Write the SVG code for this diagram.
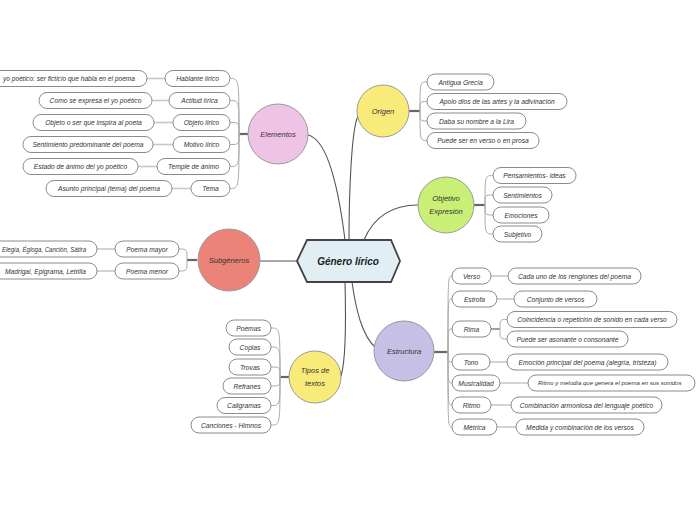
<svg xmlns="http://www.w3.org/2000/svg" width="696" height="520" viewBox="0 0 696 520">
<style>
.pill{fill:#fff;stroke:#8c8c8c;stroke-width:1}
.t{font-family:"Liberation Sans",Arial,sans-serif;font-style:italic;font-size:6.7px;fill:#333;text-anchor:middle}
.ts{text-anchor:start}
.main{fill:none;stroke:#555;stroke-width:1.1}
.br{fill:none;stroke:#aaa;stroke-width:1}
.lk{fill:none;stroke:#c8c8c8;stroke-width:1.6}
.jn{fill:none;stroke:#666;stroke-width:2.2}
.topic{stroke:#9a9a9a;stroke-width:1}
.ct{font-family:"Liberation Sans",Arial,sans-serif;font-style:italic;font-size:7.5px;fill:#333;text-anchor:middle}
</style>
<rect width="696" height="520" fill="#fff"/>
<g id="connectors">
<path class="main" d="M308 135 C330 140 340 200 345 240"/>
<path class="main" d="M358 116 C351 130 349 200 349 240"/>
<path class="main" d="M418 205 C395 205 375 214 364 240"/>
<path class="main" d="M297 261 L260 261"/>
<path class="main" d="M345 282 C346 320 346 360 341 376"/>
<path class="main" d="M352 282 C356 310 362 336 376 348"/>
<path class="jn" d="M248 134 L239 134"/>
<path class="jn" d="M197 260 L187 260"/>
<path class="jn" d="M289 377 L280 377"/>
<path class="jn" d="M409 111 L420 111"/>
<path class="jn" d="M474 205 L485 205"/>
<path class="jn" d="M434 352 L448 352"/>
<path class="jn" d="M491 329 L500 329" style="stroke-width:1.6;stroke:#888"/>
<path class="br" d="M239 134 C239 78.5 239 78.5 230 78.5"/>
<path class="br" d="M239 134 C239 100.5 239 100.5 230 100.5"/>
<path class="br" d="M239 134 C239 122.5 239 122.5 230 122.5"/>
<path class="br" d="M239 134 C239 144.5 239 144.5 230 144.5"/>
<path class="br" d="M239 134 C239 166.5 239 166.5 230 166.5"/>
<path class="br" d="M239 134 C239 188.5 239 188.5 230 188.5"/>
<path class="lk" d="M147 78.5 L165 78.5"/>
<path class="lk" d="M152 100.5 L169 100.5"/>
<path class="lk" d="M154 122.5 L173 122.5"/>
<path class="lk" d="M153 144.5 L173 144.5"/>
<path class="lk" d="M138 166.5 L157 166.5"/>
<path class="lk" d="M172 188.5 L191 188.5"/>
<path class="br" d="M187 260 C187 249 187 249 179 249"/>
<path class="br" d="M187 260 C187 271 187 271 179 271"/>
<path class="lk" d="M97 249 L115 249"/>
<path class="lk" d="M97 271 L115 271"/>
<path class="br" d="M280 377 C280 328 280 328 271 328"/>
<path class="br" d="M280 377 C280 347 280 347 271 347"/>
<path class="br" d="M280 377 C280 367 280 367 271 367"/>
<path class="br" d="M280 377 C280 386 280 386 271 386"/>
<path class="br" d="M280 377 C280 405.5 280 405.5 271 405.5"/>
<path class="br" d="M280 377 C280 425 280 425 271 425"/>
<path class="br" d="M420 111 C420 82 420 82 427 82"/>
<path class="br" d="M420 111 C420 101.5 420 101.5 427 101.5"/>
<path class="br" d="M420 111 C420 121 420 121 427 121"/>
<path class="br" d="M420 111 C420 140.5 420 140.5 427 140.5"/>
<path class="br" d="M485 205 C485 175.5 485 175.5 493 175.5"/>
<path class="br" d="M485 205 C485 195 485 195 493 195"/>
<path class="br" d="M485 205 C485 215 485 215 493 215"/>
<path class="br" d="M485 205 C485 234 485 234 493 234"/>
<path class="br" d="M448 352 C448 276 448 276 452 276"/>
<path class="br" d="M448 352 C448 299 448 299 452 299"/>
<path class="br" d="M448 352 C448 329 448 329 452 329"/>
<path class="br" d="M448 352 C448 362 448 362 452 362"/>
<path class="br" d="M448 352 C448 383 448 383 452 383"/>
<path class="br" d="M448 352 C448 405 448 405 452 405"/>
<path class="br" d="M448 352 C448 427 448 427 452 427"/>
<path class="lk" d="M491 276 L508 276"/>
<path class="lk" d="M497 299 L514 299"/>
<path class="br" d="M500 329 C500 319.5 500 319.5 507 319.5"/>
<path class="br" d="M500 329 C500 339 500 339 507 339"/>
<path class="lk" d="M490 362 L507 362"/>
<path class="lk" d="M500 383 L528 383"/>
<path class="lk" d="M491 405 L511 405"/>
<path class="lk" d="M497 427 L516 427"/>
</g>

<g id="central">
<polygon points="297,261 307,240 391,240 400,261 391,282 307,282" fill="#e1eef4" stroke="#444" stroke-width="1.8"/>
<text x="348" y="265" style="font-family:'Liberation Sans',Arial,sans-serif;font-size:10px;font-weight:bold;font-style:italic;fill:#222;text-anchor:middle">Género lírico</text>
</g>

<g id="elementos">
<circle class="topic" cx="278" cy="134" r="30" fill="#efc3e6"/>
<text class="ct" x="278" y="136.5">Elementos</text>
</g>
<g id="el-hablante"><rect class="pill" x="165" y="70.5" width="65" height="16" rx="8"/><text class="t" x="197.5" y="81">Hablante lírico</text></g>
<g id="el-actitud"><rect class="pill" x="169" y="92.5" width="61" height="16" rx="8"/><text class="t" x="199.5" y="103">Actitud lírica</text></g>
<g id="el-objeto"><rect class="pill" x="173" y="114.5" width="57" height="16" rx="8"/><text class="t" x="201.5" y="125">Objeto lírico</text></g>
<g id="el-motivo"><rect class="pill" x="173" y="136.5" width="57" height="16" rx="8"/><text class="t" x="201.5" y="147">Motivo lírico</text></g>
<g id="el-temple"><rect class="pill" x="157" y="158.5" width="73" height="16" rx="8"/><text class="t" x="193.5" y="169">Temple de ánimo</text></g>
<g id="el-tema"><rect class="pill" x="191" y="180.5" width="39" height="16" rx="8"/><text class="t" x="210.5" y="191">Tema</text></g>
<g id="lf-yo"><rect class="pill" x="-20" y="70.5" width="167" height="16" rx="8"/><text class="t ts" x="3" y="81" textLength="132" lengthAdjust="spacingAndGlyphs">yo poético: ser ficticio que habla en el poema</text></g>
<g id="lf-como"><rect class="pill" x="39" y="92.5" width="113" height="16" rx="8"/><text class="t" x="95.5" y="103">Como se expresa el yo poético</text></g>
<g id="lf-objeto"><rect class="pill" x="33" y="114.5" width="121" height="16" rx="8"/><text class="t" x="93.5" y="125">Objeto o ser que inspira al poeta</text></g>
<g id="lf-sent"><rect class="pill" x="23" y="136.5" width="130" height="16" rx="8"/><text class="t" x="88" y="147">Sentimiento predominante del poema</text></g>
<g id="lf-estado"><rect class="pill" x="23" y="158.5" width="115" height="16" rx="8"/><text class="t" x="80.5" y="169">Estado de ánimo del yo poético</text></g>
<g id="lf-asunto"><rect class="pill" x="46" y="180.5" width="126" height="16" rx="8"/><text class="t" x="109" y="191">Asunto principal (tema) del poema</text></g>

<g id="subgeneros">
<circle class="topic" cx="229" cy="260" r="31" fill="#eb8379"/>
<text class="ct" x="229" y="262.5">Subgéneros</text>
</g>
<g id="sg-mayor"><rect class="pill" x="115" y="241" width="64" height="16" rx="8"/><text class="t" x="147" y="251.5">Poema mayor</text></g>
<g id="sg-menor"><rect class="pill" x="115" y="263" width="64" height="16" rx="8"/><text class="t" x="147" y="273.5">Poema menor</text></g>
<g id="lf-elegia"><rect class="pill" x="-20" y="241" width="117" height="16" rx="8"/><text class="t ts" x="2" y="251.5" textLength="84" lengthAdjust="spacingAndGlyphs">Elegía, Égloga, Canción, Sátira</text></g>
<g id="lf-madrigal"><rect class="pill" x="-20" y="263" width="117" height="16" rx="8"/><text class="t ts" x="5" y="273.5" textLength="81" lengthAdjust="spacingAndGlyphs">Madrigal, Epigrama, Letrilla</text></g>

<g id="tipos">
<circle class="topic" cx="315" cy="377" r="26" fill="#f9eb7a"/>
<text class="ct" x="315" y="373">Tipos de</text>
<text class="ct" x="315" y="386">textos</text>
</g>
<g id="tp-poemas"><rect class="pill" x="226" y="320" width="45" height="16" rx="8"/><text class="t" x="248.5" y="330.5">Poemas</text></g>
<g id="tp-coplas"><rect class="pill" x="229" y="339" width="42" height="16" rx="8"/><text class="t" x="250" y="349.5">Coplas</text></g>
<g id="tp-trovas"><rect class="pill" x="229" y="359" width="42" height="16" rx="8"/><text class="t" x="250" y="369.5">Trovas</text></g>
<g id="tp-refranes"><rect class="pill" x="223" y="378" width="48" height="16" rx="8"/><text class="t" x="247" y="388.5">Refranes</text></g>
<g id="tp-caligramas"><rect class="pill" x="217" y="397.5" width="54" height="16" rx="8"/><text class="t" x="244" y="408">Caligramas</text></g>
<g id="tp-canciones"><rect class="pill" x="191" y="417" width="80" height="16" rx="8"/><text class="t" x="231" y="427.5">Canciones - Himnos</text></g>

<g id="origen">
<circle class="topic" cx="383" cy="111" r="26" fill="#f9eb7a"/>
<text class="ct" x="383" y="113.5">Origen</text>
</g>
<g id="or-grecia"><rect class="pill" x="427" y="74" width="67" height="16" rx="8"/><text class="t" x="460.5" y="84.5">Antigua Grecia</text></g>
<g id="or-apolo"><rect class="pill" x="427" y="93.5" width="140" height="16" rx="8"/><text class="t" x="497" y="104">Apolo dios de las artes y la adivinación</text></g>
<g id="or-lira"><rect class="pill" x="427" y="113" width="99" height="16" rx="8"/><text class="t" x="476.5" y="123.5">Daba su nombre a la Lira</text></g>
<g id="or-prosa"><rect class="pill" x="427" y="132.5" width="112" height="16" rx="8"/><text class="t" x="483" y="143">Puede ser en verso o en prosa</text></g>

<g id="objetivo">
<circle class="topic" cx="446" cy="205" r="28" fill="#c9ef76"/>
<text class="ct" x="446" y="201">Objetivo</text>
<text class="ct" x="446" y="214">Expresión</text>
</g>
<g id="ob-pens"><rect class="pill" x="493" y="167.5" width="83" height="16" rx="8"/><text class="t" x="534.5" y="178">Pensamientos- ideas</text></g>
<g id="ob-sent"><rect class="pill" x="493" y="187" width="59" height="16" rx="8"/><text class="t" x="522.5" y="197.5">Sentimientos</text></g>
<g id="ob-emoc"><rect class="pill" x="493" y="207" width="56" height="16" rx="8"/><text class="t" x="521" y="217.5">Emociones</text></g>
<g id="ob-subj"><rect class="pill" x="493" y="226" width="49" height="16" rx="8"/><text class="t" x="517.5" y="236.5">Subjetivo</text></g>

<g id="estructura">
<circle class="topic" cx="404" cy="351" r="30" fill="#c6bfe6"/>
<text class="ct" x="404" y="353.5">Estructura</text>
</g>
<g id="es-verso"><rect class="pill" x="452" y="268" width="39" height="16" rx="8"/><text class="t" x="471.5" y="278.5">Verso</text></g>
<g id="es-estrofa"><rect class="pill" x="452" y="291" width="45" height="16" rx="8"/><text class="t" x="474.5" y="301.5">Estrofa</text></g>
<g id="es-rima"><rect class="pill" x="452" y="321" width="39" height="16" rx="8"/><text class="t" x="471.5" y="331.5">Rima</text></g>
<g id="es-tono"><rect class="pill" x="452" y="354" width="38" height="16" rx="8"/><text class="t" x="471" y="364.5">Tono</text></g>
<g id="es-musicalidad"><rect class="pill" x="452" y="375" width="48" height="16" rx="8"/><text class="t" x="476" y="385.5">Musicalidad</text></g>
<g id="es-ritmo"><rect class="pill" x="452" y="397" width="39" height="16" rx="8"/><text class="t" x="471.5" y="407.5">Ritmo</text></g>
<g id="es-metrica"><rect class="pill" x="452" y="419" width="45" height="16" rx="8"/><text class="t" x="474.5" y="429.5">Métrica</text></g>
<g id="lf-renglones"><rect class="pill" x="508" y="268" width="133" height="16" rx="8"/><text class="t" x="574.5" y="278.5">Cada uno de los renglones del poema</text></g>
<g id="lf-conjunto"><rect class="pill" x="514" y="291" width="83" height="16" rx="8"/><text class="t" x="555.5" y="301.5">Conjunto de versos</text></g>
<g id="lf-coincidencia"><rect class="pill" x="507" y="311.5" width="170" height="16" rx="8"/><text class="t" x="592" y="322">Coincidencia o repetición de sonido en cada verso</text></g>
<g id="lf-asonante"><rect class="pill" x="507" y="331" width="121" height="16" rx="8"/><text class="t" x="567.5" y="341.5">Puede ser asonante o consonante</text></g>
<g id="lf-emocion"><rect class="pill" x="507" y="354" width="161" height="16" rx="8"/><text class="t" x="587.5" y="364.5">Emoción principal del poema (alegría, tristeza)</text></g>
<g id="lf-melodia"><rect class="pill" x="528" y="375" width="167" height="16" rx="8"/><text class="t ts" x="538" y="385.3" style="font-size:6px">Ritmo y melodía que genera el poema en sus sonidos</text></g>
<g id="lf-combinacion"><rect class="pill" x="511" y="397" width="151" height="16" rx="8"/><text class="t" x="586.5" y="407.5">Combinación armoniosa del lenguaje poético</text></g>
<g id="lf-medida"><rect class="pill" x="516" y="419" width="128" height="16" rx="8"/><text class="t" x="580" y="429.5">Medida y combinación de los versos</text></g>
</svg>
